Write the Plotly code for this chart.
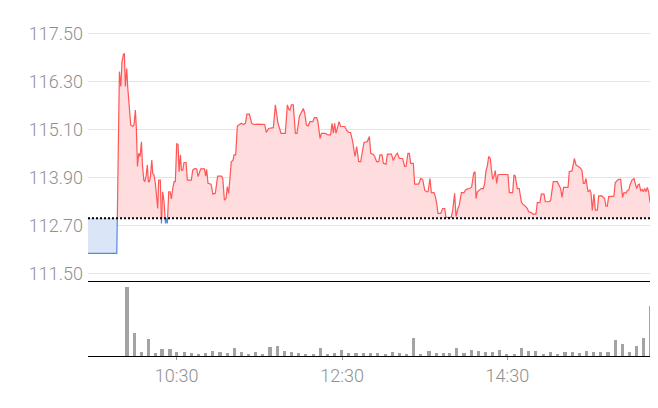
import plotly.graph_objects as go

# ---------------- data ----------------
PREV_CLOSE = 112.88

# time in minutes after midnight, price
price_time = [
    565.6, 586.5,
    588.4, 589.4, 590.3, 591.3, 592.0, 592.7, 593.7, 594.4, 595.6, 596.6, 598.1, 599.0, 600.0, 600.7,
    601.5, 602.4, 603.4, 604.4, 605.1, 606.1, 606.8, 607.7, 608.7, 609.4, 610.2, 610.9, 611.9, 612.6,
    613.5, 614.5, 615.5, 616.2, 616.9, 618.1, 618.9, 619.8, 620.8, 621.8, 622.5, 623.2, 624.2, 625.2,
    626.1, 627.1, 628.1, 629.0, 630.0, 631.0, 631.7, 632.7, 633.4, 634.4, 635.3, 636.8, 637.7, 640.6,
    641.6, 643.1, 644.5, 645.5, 646.4, 647.4,
    650.1, 651.0, 651.7, 652.7, 654.9, 656.3, 658.0, 659.0, 659.7, 662.4, 663.4, 664.6, 665.8, 666.7,
    667.7, 669.6, 670.9, 671.6, 672.8, 674.0, 676.0, 676.9, 678.4, 679.8, 681.0, 682.7, 684.4, 686.1,
    689.0, 693.8, 695.0, 696.7, 700.1, 701.6, 703.5, 705.7, 708.8, 710.3, 711.3, 712.2, 713.2,
    714.6, 716.1, 717.3, 719.0, 720.9, 721.9, 722.9, 724.1, 725.3, 726.7, 728.7, 729.9, 731.6, 732.5,
    734.0, 735.0, 737.9, 739.8, 741.7, 742.7, 743.7, 744.6, 745.6, 746.6, 747.8, 749.0, 751.9, 753.3,
    754.8, 756.2, 757.7, 759.4, 760.6, 762.1, 763.5, 765.9, 768.3, 769.8, 770.8, 772.7, 773.7, 775.1,
    776.6, 777.5,
    779.0, 780.0, 781.9, 782.9, 785.8, 787.2, 788.7, 790.1, 791.6, 794.0, 795.4, 796.4, 797.8, 798.8,
    799.8, 801.7, 802.7, 805.6, 807.0, 808.5, 810.0, 811.4, 812.4, 813.8, 814.8, 816.7, 817.7, 818.7,
    819.6, 821.6, 823.0, 824.5, 825.4, 829.3, 830.3, 831.7, 832.7, 834.1, 835.1, 836.6, 838.5, 839.5,
    840.9, 842.8, 844.1,
    845.5, 846.5, 847.2, 848.2, 849.6, 851.1, 852.5, 853.5, 854.5, 855.4, 856.4, 857.6, 858.3, 859.3,
    860.3, 861.2, 862.2, 863.2, 864.6, 870.4, 871.4, 873.8, 874.8, 875.7, 877.2, 878.6, 880.1, 881.1,
    883.0, 884.5, 885.4, 887.4, 888.6, 890.7, 891.7, 893.6, 894.6, 896.6, 897.5, 900.4, 901.4, 903.3,
    906.2, 907.7, 908.6,
    909.6, 910.8, 914.0, 914.9, 916.9, 917.8, 918.6, 919.8, 921.2, 922.7, 924.1, 925.1, 926.1, 927.0,
    928.5, 929.9, 930.7, 931.6, 932.8, 933.8, 935.3, 936.2, 938.2, 939.6, 940.6, 941.5, 942.5, 943.5,
    947.3, 948.3, 949.5, 950.7, 952.2, 953.6, 954.6, 956.1, 957.0, 958.0, 959.0, 960.4, 961.9, 962.8,
    963.8, 964.8, 965.7, 966.7, 967.7, 968.6, 969.6, 970.6, 971.5, 972.5, 973.5, 974.4, 975.4, 976.4,
]
price = [
    112.00, 112.00,
    116.54, 116.17, 116.79, 116.96, 117.00, 116.17, 116.62, 116.17, 115.54, 115.21, 115.17, 115.21, 115.58, 115.12,
    114.17, 114.50, 114.42, 114.79, 114.21, 113.83, 113.79, 113.92, 114.21, 113.79, 113.79, 113.92, 114.33, 114.00,
    113.96, 113.75, 113.37, 113.12, 113.83, 113.83, 112.75, 113.54, 113.29, 112.75, 112.87, 112.75, 113.54, 113.54,
    113.36, 113.62, 113.79, 113.79, 114.75, 114.71, 114.04, 114.46, 114.08, 114.08, 114.27, 114.27, 113.83, 113.83,
    114.08, 114.12, 114.11, 113.92, 114.00, 114.11,
    114.11, 113.93, 114.10, 113.75, 113.73, 113.48, 113.50, 113.71, 113.93, 113.93, 113.87, 113.33, 113.37, 113.67,
    113.50, 114.29, 114.33, 114.46, 114.46, 115.18, 115.22, 115.25, 115.22, 115.25, 115.48, 115.48, 115.25, 115.22,
    115.23, 115.22, 115.02, 115.12, 115.14, 115.71, 115.25, 115.00, 115.00, 115.71, 115.60, 115.58, 115.71,
    115.71, 115.00, 115.00, 115.42, 115.58, 115.62, 115.50, 115.21, 115.18, 115.29, 115.29, 115.39, 115.39, 115.29,
    114.87, 115.00, 115.00, 114.96, 114.96, 115.25, 115.00, 115.25, 115.00, 115.17, 115.29, 115.17, 115.17, 115.08,
    115.02, 115.02, 114.79, 114.42, 114.67, 114.29, 114.29, 114.77, 114.79, 114.92, 114.50, 114.47, 114.42, 114.29,
    114.29, 114.46,
    114.46, 114.25, 114.23, 114.48, 114.48, 114.32, 114.44, 114.50, 114.37, 114.37, 114.17, 114.17, 114.50, 114.50,
    114.25, 114.25, 113.73, 113.73, 113.87, 113.85, 113.58, 113.54, 113.54, 113.87, 113.52, 113.52, 113.42, 113.25,
    113.00, 113.00, 113.12, 113.12, 112.90, 112.90, 113.08, 113.50, 112.92, 113.12, 113.21, 113.52, 113.52, 113.58,
    113.61, 113.62, 113.67,
    114.00, 114.04, 113.37, 113.54, 113.58, 113.62, 113.62, 113.75, 114.08, 114.17, 114.42, 114.37, 114.12, 113.85,
    113.93, 114.07, 113.75, 113.96, 113.97, 113.97, 113.52, 113.52, 113.96, 113.93, 113.62, 113.62, 113.29, 113.23,
    113.18, 113.12, 113.04, 113.02, 112.98, 112.98, 113.27, 113.27, 113.48, 113.48, 113.29, 113.29, 113.33, 113.79,
    113.79, 113.67, 113.62,
    113.40, 113.65, 113.65, 114.04, 114.06, 114.21, 114.37, 114.21, 114.18, 114.14, 114.08, 113.75, 113.75, 113.87,
    113.54, 113.58, 113.50, 113.07, 113.48, 113.08, 113.08, 113.43, 113.44, 113.40, 113.37, 113.18, 113.18, 113.42,
    113.43, 113.77, 113.82, 113.85, 113.85, 113.40, 113.52, 113.50, 113.57, 113.58, 113.71, 113.83, 113.87, 113.75,
    113.62, 113.71, 113.73, 113.57, 113.60, 113.54, 113.62, 113.54, 113.65, 113.54, 113.29, 113.21, 112.90, 112.83,
]

vol_time = [
    593.9, 599.0, 604.1, 609.2, 614.3, 619.3, 625.1, 630.0, 635.3, 640.4,
    645.5, 651.0, 656.1, 661.4, 666.5, 671.6, 676.9, 682.0, 687.0, 692.1,
    697.7, 703.0, 708.4, 713.5, 718.2, 723.6, 729.1, 734.0, 739.3, 744.4,
    749.7, 755.0, 760.1, 765.4, 770.8, 775.6, 781.2, 786.7, 791.8, 796.9,
    802.0, 807.1, 813.1, 818.2, 823.3, 828.3, 833.4, 838.5, 844.1, 849.2,
    854.2, 859.3, 864.4, 869.5, 875.3, 880.4, 885.4, 890.5, 896.0, 901.6,
    906.7, 911.8, 916.9, 922.2, 927.5, 932.8, 937.9, 943.0, 948.1, 953.7,
    958.7, 963.8, 969.1, 974.2,
]
volume = [
    68.0, 22.7, 4.3, 17.0, 2.7, 7.0, 7.0, 4.3, 4.3, 3.3,
    1.0, 3.3, 5.3, 4.3, 3.3, 8.0, 4.3, 1.3, 4.3, 2.0,
    9.0, 10.0, 4.7, 4.3, 3.3, 2.0, 1.0, 8.0, 2.3, 2.7,
    6.0, 3.3, 3.0, 2.7, 3.3, 2.7, 1.0, 4.3, 3.0, 2.0,
    17.7, 1.0, 5.3, 3.0, 3.0, 3.0, 8.0, 3.3, 6.0, 5.0,
    4.0, 4.3, 6.0, 2.0, 2.0, 8.0, 4.7, 5.0, 2.0, 4.0,
    2.0, 4.0, 4.0, 3.0, 5.0, 4.0, 4.0, 4.0, 16.0, 12.0,
    4.3, 10.0, 18.0, 49.0,
]

y_ticks = [111.50, 112.70, 113.90, 115.10, 116.30, 117.50]
x_tick_vals = [630, 750, 870]
x_tick_text = ["10:30", "12:30", "14:30"]
X_RANGE = [565.6, 979.3]
PRICE_RANGE = [111.31, 117.83]
VOL_RANGE = [0, 74]

# ---------------- split line at previous close ----------------
base = PREV_CLOSE
xs, ys = [], []
for i, (t, p) in enumerate(zip(price_time, price)):
    if i > 0:
        t0, p0 = price_time[i - 1], price[i - 1]
        if (p0 - base) * (p - base) < 0:
            f = (base - p0) / (p - p0)
            xs.append(t0 + f * (t - t0))
            ys.append(base)
    xs.append(t)
    ys.append(p)

red_line = [y if y >= base else None for y in ys]
blue_line = [y if y <= base else None for y in ys]
red_fill = [max(y, base) for y in ys]
blue_fill = [min(y, base) for y in ys]

RED = "#ff5656"
RED_FILL = "#ffdcde"
BLUE = "#5588e0"
BLUE_FILL = "#dae5f7"

fig = go.Figure()
fig.add_trace(go.Scatter(x=xs + xs[::-1], y=red_fill + [base] * len(xs), fill="toself",
                         fillcolor=RED_FILL, line=dict(width=0), mode="lines", hoverinfo="skip"))
fig.add_trace(go.Scatter(x=xs + xs[::-1], y=blue_fill + [base] * len(xs), fill="toself",
                         fillcolor=BLUE_FILL, line=dict(width=0), mode="lines", hoverinfo="skip"))
fig.add_trace(go.Scatter(x=xs, y=red_line, mode="lines", line=dict(color=RED, width=1.2),
                         connectgaps=False))
fig.add_trace(go.Scatter(x=xs, y=blue_line, mode="lines", line=dict(color=BLUE, width=1.2),
                         connectgaps=False))
fig.add_trace(go.Scatter(x=[X_RANGE[0], price_time[-1]], y=[base, base], mode="lines",
                         line=dict(color="black", width=2, dash="2px,2px")))
fig.add_trace(go.Bar(x=vol_time, y=volume, xaxis="x2", yaxis="y2", width=2.2,
                     marker=dict(color="#a3a3a3", line=dict(width=0))))

TICK_FONT = dict(family="Roboto, Liberation Sans, sans-serif", size=18, color="#8f8f8f", weight=300)
SPLIT = 75 / 336

# The page body adds an 8px margin, so the figure is sized 650x400 and
# offset accordingly to land on the same pixels as the reference.
fig.update_layout(
    width=650, height=400,
    margin=dict(l=80, r=0, t=12, b=52, autoexpand=False),
    paper_bgcolor="white", plot_bgcolor="white",
    showlegend=False,
    xaxis=dict(domain=[0, 1], range=X_RANGE, anchor="y", showgrid=False, zeroline=False,
               showline=True, linecolor="black", linewidth=1, showticklabels=False, ticks="",
               automargin=False),
    yaxis=dict(domain=[SPLIT, 1], range=PRICE_RANGE, tickvals=y_ticks,
               ticktext=[f"{v:.2f}" for v in y_ticks], showgrid=True, gridcolor="#e4e4e4",
               gridwidth=1, zeroline=False, showline=False, ticks="", tickfont=TICK_FONT,
               ticklabelstandoff=4, automargin=False),
    xaxis2=dict(domain=[0, 1], range=X_RANGE, anchor="y2", showgrid=False, zeroline=False,
                showline=True, linecolor="black", linewidth=1, ticks="outside", ticklen=3,
                tickcolor="#9a9a9a", tickwidth=1, tickvals=x_tick_vals, ticktext=x_tick_text,
                tickfont=TICK_FONT, automargin=False),
    yaxis2=dict(domain=[0, SPLIT], range=VOL_RANGE, showgrid=False, zeroline=False,
                showticklabels=False, showline=False, ticks="", automargin=False),
    bargap=0,
)

fig.write_html("out.html")
